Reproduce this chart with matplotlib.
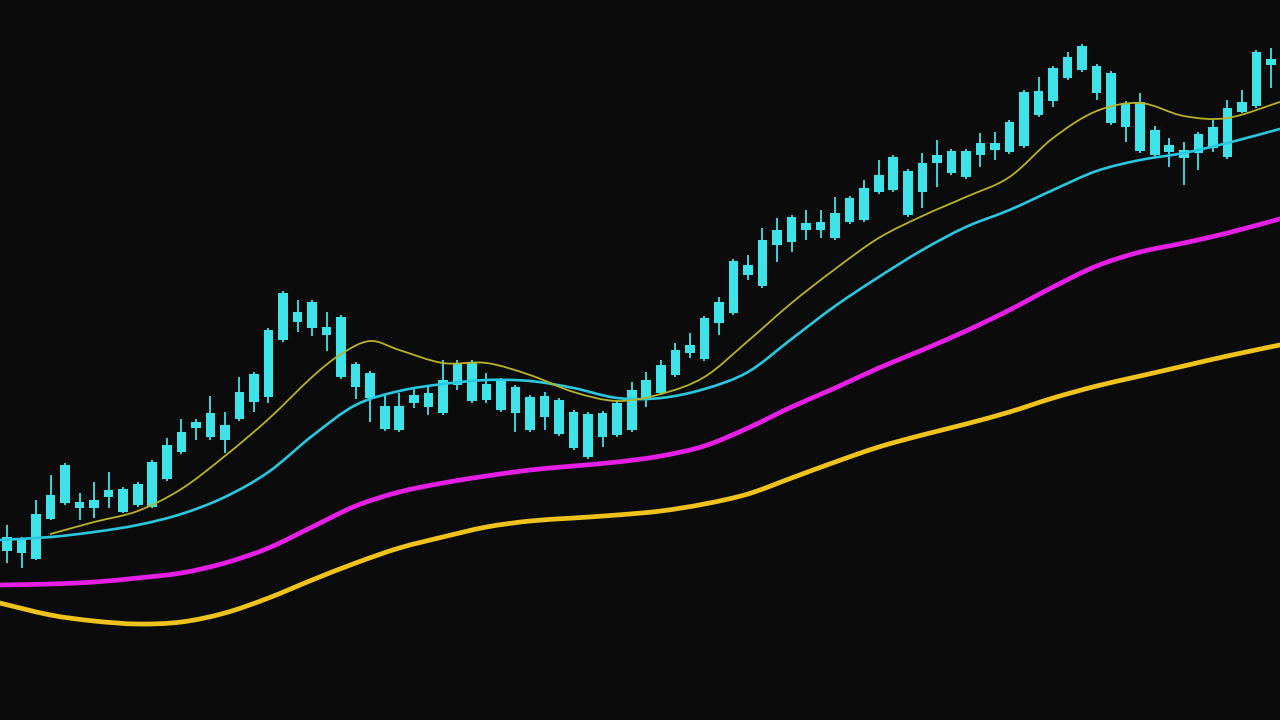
import matplotlib
matplotlib.use("Agg")
import matplotlib.pyplot as plt
from matplotlib.patches import Rectangle, PathPatch
from matplotlib.path import Path

# candle data (one entry per bar)
opens = [16.9, 18.0, 16.1, 20.1, 21.7, 21.8, 22.0, 22.3, 23.1, 21.5,
         21.3, 24.1, 26.8, 29.8, 28.3, 29.5, 30.1, 31.8, 32.3, 38.0,
         40.8, 39.2, 39.3, 40.3, 35.6, 34.7, 31.4, 31.4, 31.7, 31.3,
         30.7, 33.5, 31.9, 33.6, 31.0, 33.3, 32.3, 32.4, 32.0, 30.8,
         30.6, 28.3, 28.5, 29.0, 32.2, 32.7, 34.5, 36.7, 36.1, 39.7,
         40.7, 45.5, 43.4, 47.5, 47.8, 49.7, 49.8, 48.2, 49.8, 50.0,
         52.8, 53.0, 54.9, 52.8, 55.7, 56.9, 56.9, 56.5, 57.0, 56.8,
         57.4, 60.5, 61.9, 64.2, 65.0, 65.4, 64.7, 61.7, 61.8, 59.0,
         57.5, 57.0, 56.7, 57.2, 56.3, 60.8, 61.4, 66.1]
closes = [18.3, 16.7, 20.6, 22.5, 25.5, 21.2, 21.2, 23.0, 20.8, 23.6,
          25.8, 27.5, 28.8, 29.2, 30.7, 28.0, 32.8, 34.6, 39.0, 42.7,
          39.8, 41.8, 38.5, 34.3, 33.3, 32.2, 29.1, 29.0, 32.5, 32.7,
          34.0, 35.7, 35.8, 32.0, 34.0, 30.7, 29.0, 30.3, 28.6, 27.2,
          26.3, 30.7, 31.7, 33.0, 34.0, 35.5, 37.0, 37.5, 40.2, 41.8,
          45.9, 44.5, 48.0, 49.0, 50.3, 49.0, 49.0, 50.7, 52.2, 53.2,
          54.5, 56.3, 50.5, 55.7, 56.5, 54.7, 54.3, 57.7, 57.7, 59.8,
          62.8, 62.9, 65.2, 66.3, 67.4, 62.7, 59.7, 59.3, 56.9, 56.5,
          56.8, 56.2, 58.6, 59.3, 61.2, 61.8, 66.8, 65.5]
highs = [19.5, 18.3, 22.0, 24.5, 25.7, 22.7, 23.8, 24.8, 23.3, 23.8,
         26.0, 28.2, 30.1, 30.1, 32.4, 30.8, 34.3, 34.8, 39.2, 42.9,
         42.0, 42.0, 40.8, 40.5, 35.8, 34.9, 32.6, 32.7, 33.2, 33.5,
         36.0, 36.0, 36.0, 34.7, 34.2, 33.5, 32.5, 32.8, 32.2, 31.0,
         30.8, 30.9, 31.9, 33.8, 34.8, 36.0, 37.7, 38.7, 40.4, 42.3,
         46.1, 46.5, 49.2, 50.2, 50.5, 51.0, 51.0, 52.3, 52.4, 54.0,
         56.0, 56.5, 55.1, 56.7, 58.0, 57.1, 57.1, 58.7, 58.8, 60.0,
         63.0, 64.3, 65.4, 66.8, 67.6, 65.6, 64.9, 61.9, 62.7, 59.4,
         58.2, 57.8, 58.8, 60.0, 62.0, 63.0, 67.0, 67.2]
lows = [15.7, 15.2, 16.0, 20.0, 21.5, 20.0, 20.2, 21.2, 20.7, 21.3,
        21.2, 23.9, 26.6, 28.0, 28.0, 26.7, 29.9, 30.8, 31.7, 37.8,
        38.8, 38.4, 36.9, 34.1, 32.1, 29.8, 28.9, 28.8, 31.2, 30.5,
        30.5, 33.0, 31.7, 31.7, 30.8, 28.8, 28.8, 29.0, 28.4, 27.0,
        26.1, 27.3, 28.3, 28.8, 31.3, 32.5, 34.3, 36.2, 35.9, 38.5,
        40.5, 44.0, 43.2, 45.8, 46.8, 48.0, 48.2, 48.0, 49.6, 49.8,
        52.6, 52.8, 50.3, 51.2, 53.3, 54.5, 54.1, 55.3, 56.0, 56.6,
        57.2, 60.3, 61.3, 64.0, 64.8, 62.0, 59.5, 57.8, 56.7, 56.3,
        55.3, 53.5, 55.0, 56.8, 56.1, 60.7, 61.2, 63.2]

# moving averages, read at selected bar positions
fast_ma_x = [3, 6, 9, 12, 15, 18, 21, 23, 25, 27, 30, 33, 36, 39, 42, 45,
             48, 51, 54, 57, 60, 63, 66, 69, 72, 75, 78, 81, 84, 87.6]
fast_ma = [18.6, 19.8, 20.9, 23.1, 26.4, 30.1, 34.3, 36.6, 37.9, 37.0,
           35.7, 35.7, 34.5, 32.8, 31.9, 32.6, 34.3, 37.9, 41.7, 45.1, 48.2,
           50.4, 52.3, 54.3, 58.2, 60.9, 61.7, 60.4, 60.2, 61.8]

ma_x = [-0.5, 3, 6, 9, 12, 15, 18, 21, 24, 27, 30, 33, 36, 39, 42, 45, 48,
        51, 54, 57, 60, 63, 66, 69, 72, 75, 78, 81, 84, 87.6]
mid_ma = [18.0, 18.3, 18.8, 19.5, 20.6, 22.3, 24.8, 28.4, 31.5, 32.9, 33.6,
          34.0, 33.9, 33.2, 32.2, 32.2, 33.1, 34.8, 38.1, 41.4, 44.3, 47.0,
          49.3, 51.0, 53.0, 54.9, 56.0, 56.7, 57.7, 59.1]
slow_ma = [13.5, 13.6, 13.8, 14.2, 14.7, 15.7, 17.2, 19.3, 21.4, 22.8, 23.7,
           24.4, 25.0, 25.4, 25.8, 26.4, 27.4, 29.2, 31.3, 33.2, 35.2, 37.0,
           38.9, 41.0, 43.3, 45.4, 46.8, 47.7, 48.7, 50.1]
long_ma = [11.7, 10.5, 9.9, 9.6, 9.8, 10.7, 12.2, 14.0, 15.7, 17.2, 18.3,
           19.3, 19.9, 20.2, 20.5, 20.9, 21.6, 22.6, 24.2, 25.8, 27.3, 28.5,
           29.6, 30.8, 32.2, 33.4, 34.4, 35.4, 36.4, 37.5]

BG = "#0b0b0b"
CANDLE = "#3ee3ea"


def draw_candles(ax):
    width = 0.66
    for i, (o, h, l, c) in enumerate(zip(opens, highs, lows, closes)):
        ax.vlines(i, l, h, color=CANDLE, linewidth=1.3, zorder=2)
        lo, hi = min(o, c), max(o, c)
        ax.add_patch(Rectangle((i - width / 2, lo), width, max(hi - lo, 0.3),
                               facecolor=CANDLE, edgecolor="none", zorder=3))


def smooth_line(ax, xs, ys, **kw):
    # catmull-rom style bezier path through the read points
    pts = list(zip(xs, ys))
    verts = [pts[0]]
    codes = [Path.MOVETO]
    n = len(pts)
    for k in range(n - 1):
        p0 = pts[max(k - 1, 0)]
        p1 = pts[k]
        p2 = pts[k + 1]
        p3 = pts[min(k + 2, n - 1)]
        c1 = (p1[0] + (p2[0] - p0[0]) / 6, p1[1] + (p2[1] - p0[1]) / 6)
        c2 = (p2[0] - (p3[0] - p1[0]) / 6, p2[1] - (p3[1] - p1[1]) / 6)
        verts += [c1, c2, p2]
        codes += [Path.CURVE4] * 3
    ax.add_patch(PathPatch(Path(verts, codes), fill=False, capstyle="round",
                           joinstyle="round", **kw))


fig = plt.figure(figsize=(12.8, 7.2), dpi=100, facecolor=BG)
ax = fig.add_axes([0, 0, 1, 1])
ax.set_facecolor(BG)

draw_candles(ax)

smooth_line(ax, ma_x, long_ma, edgecolor="#efc21c", linewidth=3.4, zorder=4)
smooth_line(ax, ma_x, slow_ma, edgecolor="#e61ee6", linewidth=3.4, zorder=4)
smooth_line(ax, ma_x, mid_ma, edgecolor="#2ac8e0", linewidth=1.9, zorder=4)
smooth_line(ax, fast_ma_x, fast_ma, edgecolor="#b9b126", linewidth=1.3, zorder=4)

ax.set_xlim(-0.48, 87.62)
ax.set_ylim(0, 72)
ax.axis("off")

fig.savefig("out.png", dpi=100, facecolor=BG)
